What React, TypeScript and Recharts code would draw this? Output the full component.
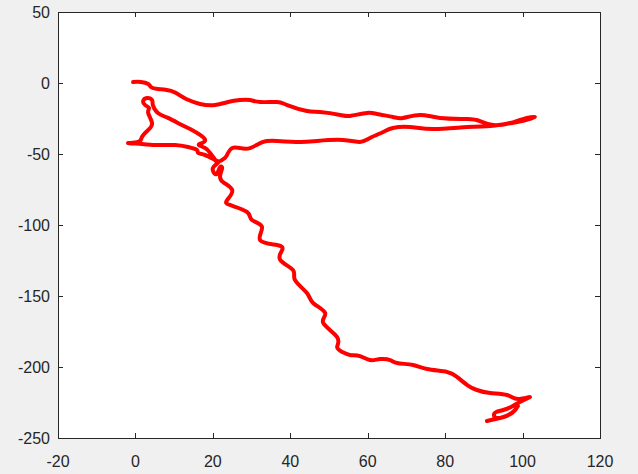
import { LineChart, Line, XAxis, YAxis } from 'recharts';

const xTicks = [-20, 0, 20, 40, 60, 80, 100, 120];
const yTicks = [-250, -200, -150, -100, -50, 0, 50];

// outbound along the northern edge
const northLeg: [number, number][] = [
  [-0.6, 0.7], [1.4, 0.7], [3.3, -0.7], [4.0, -2.8], [5.8, -4.2], [9.2, -5.6],
  [11.8, -9.2], [13.1, -11.3], [16.7, -14.8], [20.6, -15.5], [23.9, -13.4],
  [27.0, -12.0], [29.6, -12.0], [32.2, -13.4], [36.6, -13.4], [39.2, -15.5],
  [44.3, -19.7], [47.7, -20.4], [52.9, -22.5], [55.4, -23.2], [59.8, -21.1],
  [62.4, -21.8], [66.5, -23.9], [69.1, -24.6], [73.5, -22.5], [78.7, -24.6],
  [85.7, -25.4], [89.0, -26.8], [92.4, -29.6], [96.8, -28.2], [100.1, -25.4],
  [103.2, -23.9],
];

// way back, a little further south
const returnLeg: [number, number][] = [
  [99.9, -26.8], [95.5, -28.9], [91.6, -30.3], [85.7, -31.0], [76.9, -32.4],
  [70.9, -31.0], [66.5, -31.7], [64.0, -34.5], [60.6, -38.7], [58.0, -41.5],
  [53.6, -40.1], [46.9, -40.8], [42.5, -41.5], [36.6, -40.8], [33.0, -41.5],
  [29.6, -45.8], [27.0, -45.8], [25.0, -45.8], [23.9, -49.3], [23.1, -52.8],
  [21.3, -55.6], [20.6, -54.2],
];

// loop out to the west and back to the crossing
const westLoop: [number, number][] = [
  [19.3, -49.3], [18.0, -45.8], [16.4, -43.7], [17.2, -42.3], [18.0, -40.1],
  [16.7, -36.6], [14.6, -33.1], [12.0, -29.6], [8.4, -24.6], [5.8, -21.1],
  [4.5, -15.5], [4.3, -12.0], [3.0, -10.6], [2.0, -12.7], [2.5, -15.5],
  [3.5, -17.6], [3.3, -21.1], [4.3, -28.2], [3.3, -33.1], [1.7, -38.0],
  [0.7, -41.5], [-1.9, -42.3], [1.7, -43.0], [5.8, -43.7], [10.2, -43.7],
  [13.6, -45.1], [15.9, -47.2], [16.2, -49.3], [18.0, -50.7], [20.6, -54.2],
];

// long leg down to the south-east
const southLeg: [number, number][] = [
  [21.3, -56.3], [20.0, -59.9], [20.6, -64.1], [21.3, -62.7], [21.9, -59.2],
  [22.4, -59.9], [21.9, -64.8], [22.6, -69.7], [25.0, -75.4], [23.7, -82.4],
  [24.4, -85.9], [28.8, -90.8], [30.1, -96.5], [32.7, -101.4], [32.2, -110.6],
  [36.6, -114.1], [37.9, -117.6], [37.4, -124.6], [40.7, -131.7], [41.2, -138.7],
  [44.3, -147.9], [45.9, -154.9], [49.0, -162.0], [48.5, -169.0], [52.1, -178.9],
  [52.1, -185.9], [53.4, -189.4], [55.4, -191.5], [58.0, -192.3], [60.6, -195.1],
  [63.2, -194.4], [65.8, -195.1], [67.6, -197.2], [71.7, -198.6], [75.3, -201.4],
  [80.5, -203.5], [83.1, -207.0], [85.7, -212.7], [88.2, -216.2], [91.6, -218.3],
  [96.0, -219.7], [98.8, -222.5], [101.9, -221.1], [99.3, -224.6], [97.5, -227.5],
  [95.0, -230.3], [93.2, -231.7], [92.6, -233.8], [93.4, -235.9], [95.7, -234.5],
  [97.8, -231.0], [98.8, -227.5], [97.3, -232.4], [94.2, -235.9], [90.8, -238.0],
];

const track = [...northLeg, ...returnLeg, ...westLoop, ...southLeg].map(([x, y]) => ({ x, y }));

const INK = '#262626';
const FONT = 'Arial, "Liberation Sans", Helvetica, sans-serif';

// plot box edges (MATLAB-style axes box, ticks pointing inwards on all sides)
const PLOT_LEFT = 58;
const PLOT_TOP = 12;
const PLOT_RIGHT = 600;
const PLOT_BOTTOM = 438;
const TICK_LEN = 5;

function BottomTick(props: any) {
  const { x, payload } = props;
  const cx = Math.round(x) + 0.5;
  return (
    <g>
      <line x1={cx} y1={PLOT_BOTTOM} x2={cx} y2={PLOT_BOTTOM - TICK_LEN} stroke={INK} />
      <line x1={cx} y1={PLOT_TOP} x2={cx} y2={PLOT_TOP + TICK_LEN} stroke={INK} />
      <text x={x} y={PLOT_BOTTOM + 23} textAnchor="middle" dominantBaseline="central" fill={INK} fontSize={16} fontFamily={FONT}>
        {payload.value}
      </text>
    </g>
  );
}

function LeftTick(props: any) {
  const { y, payload } = props;
  const cy = Math.round(y) + 0.5;
  return (
    <g>
      <line x1={PLOT_LEFT} y1={cy} x2={PLOT_LEFT + TICK_LEN} y2={cy} stroke={INK} />
      <line x1={PLOT_RIGHT} y1={cy} x2={PLOT_RIGHT - TICK_LEN} y2={cy} stroke={INK} />
      <text x={PLOT_LEFT - 8} y={y} textAnchor="end" dominantBaseline="central" fill={INK} fontSize={16} fontFamily={FONT}>
        {payload.value}
      </text>
    </g>
  );
}

export default function App() {
  return (
    <div style={{ position: 'absolute', left: 0, top: 0, width: 638, height: 474, background: '#f0f0f0' }}>
      <div
        style={{
          position: 'absolute',
          left: PLOT_LEFT,
          top: PLOT_TOP,
          width: PLOT_RIGHT - PLOT_LEFT + 1,
          height: PLOT_BOTTOM - PLOT_TOP + 1,
          boxSizing: 'border-box',
          border: `1px solid ${INK}`,
          background: '#ffffff',
        }}
      />
      <div style={{ position: 'absolute', left: 0, top: 0 }}>
        <LineChart width={638} height={474} data={track} margin={{ top: 12, right: 38, bottom: 0, left: 0 }}>
          <XAxis
            dataKey="x"
            type="number"
            domain={[-20, 120]}
            ticks={xTicks}
            interval={0}
            height={36}
            axisLine={false}
            tickLine={false}
            tick={<BottomTick />}
          />
          <YAxis
            type="number"
            domain={[-250, 50]}
            ticks={yTicks}
            interval={0}
            width={58}
            axisLine={false}
            tickLine={false}
            tick={<LeftTick />}
          />
          <Line
            dataKey="y"
            type="natural"
            stroke="#ff0000"
            strokeWidth={4}
            strokeLinejoin="round"
            strokeLinecap="round"
            dot={false}
            activeDot={false}
            isAnimationActive={false}
          />
        </LineChart>
      </div>
    </div>
  );
}
